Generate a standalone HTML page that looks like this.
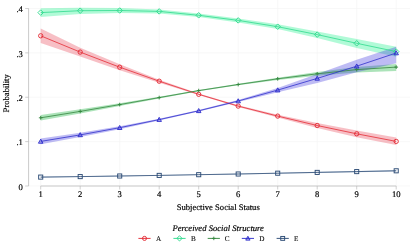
<!DOCTYPE html>
<html><head><meta charset="utf-8"><title>Chart</title><style>html,body{margin:0;padding:0;background:#fff}body{width:410px;height:244px;overflow:hidden}</style></head><body>
<svg width="410" height="244" viewBox="0 0 410 244" style="display:block;text-rendering:geometricPrecision">
<rect width="410" height="244" fill="#fff"/>
<path d="M40.70 0V186M80.20 0V186M119.70 0V186M159.20 0V186M198.70 0V186M238.20 0V186M277.70 0V186M317.20 0V186M356.70 0V186M396.20 0V186M29 186.00H410M29 141.62H410M29 97.25H410M29 52.88H410M29 8.50H410" stroke="#f3f3f3" stroke-width="0.6" fill="none"/>
<polygon points="40.70,28.50 80.20,47.80 119.70,64.20 159.20,79.70 198.70,93.50 238.20,105.30 277.70,114.80 317.20,123.10 356.70,130.40 396.20,137.50 396.20,145.00 356.70,137.20 317.20,127.90 277.70,117.40 238.20,106.90 198.70,95.10 159.20,82.70 119.70,70.20 80.20,56.40 40.70,42.90" fill="#e62a40" fill-opacity="0.3"/>
<polygon points="40.70,8.30 80.20,7.70 119.70,8.10 159.20,9.40 198.70,13.50 238.20,18.40 277.70,24.30 317.20,31.40 356.70,38.90 396.20,46.80 396.20,56.80 356.70,47.90 317.20,37.90 277.70,29.10 238.20,22.40 198.70,17.10 159.20,13.40 119.70,13.00 80.20,13.90 40.70,17.10" fill="#28f090" fill-opacity="0.36"/>
<polygon points="40.70,114.90 80.20,109.20 119.70,103.20 159.20,96.80 198.70,90.00 238.20,83.80 277.70,77.70 317.20,71.90 356.70,66.90 396.20,63.90 396.20,71.00 356.70,72.50 317.20,75.70 277.70,79.90 238.20,85.20 198.70,91.20 159.20,98.40 119.70,106.00 80.20,113.60 40.70,120.50" fill="#30b850" fill-opacity="0.4"/>
<polygon points="40.70,138.60 80.20,132.70 119.70,126.20 159.20,118.70 198.70,110.10 238.20,100.00 277.70,87.90 317.20,74.00 356.70,59.80 396.20,46.70 396.20,63.30 356.70,72.20 317.20,83.00 277.70,92.30 238.20,102.00 198.70,111.50 159.20,120.50 119.70,129.20 80.20,137.10 40.70,144.20" fill="#4038e0" fill-opacity="0.34"/>
<polygon points="40.70,176.55 80.20,176.15 119.70,175.60 159.20,175.00 198.70,174.30 238.20,173.60 277.70,172.75 317.20,171.85 356.70,170.90 396.20,170.00 396.20,171.60 356.70,172.30 317.20,172.95 277.70,173.65 238.20,174.40 198.70,175.10 159.20,175.80 119.70,176.40 80.20,177.05 40.70,177.65" fill="#3a6a9a" fill-opacity="0.3"/>
<polyline points="40.70,35.80 80.20,52.10 119.70,67.20 159.20,81.20 198.70,94.30 238.20,106.10 277.70,116.10 317.20,125.50 356.70,133.80 396.20,141.40" fill="none" stroke="#e42c36" stroke-width="0.8"/>
<circle cx="40.70" cy="35.80" r="2.15" fill="none" stroke="#e42c36" stroke-width="0.95"/>
<circle cx="80.20" cy="52.10" r="2.15" fill="none" stroke="#e42c36" stroke-width="0.95"/>
<circle cx="119.70" cy="67.20" r="2.15" fill="none" stroke="#e42c36" stroke-width="0.95"/>
<circle cx="159.20" cy="81.20" r="2.15" fill="none" stroke="#e42c36" stroke-width="0.95"/>
<circle cx="198.70" cy="94.30" r="2.15" fill="none" stroke="#e42c36" stroke-width="0.95"/>
<circle cx="238.20" cy="106.10" r="2.15" fill="none" stroke="#e42c36" stroke-width="0.95"/>
<circle cx="277.70" cy="116.10" r="2.15" fill="none" stroke="#e42c36" stroke-width="0.95"/>
<circle cx="317.20" cy="125.50" r="2.15" fill="none" stroke="#e42c36" stroke-width="0.95"/>
<circle cx="356.70" cy="133.80" r="2.15" fill="none" stroke="#e42c36" stroke-width="0.95"/>
<circle cx="396.20" cy="141.40" r="2.15" fill="none" stroke="#e42c36" stroke-width="0.95"/>
<polyline points="40.70,12.60 80.20,10.70 119.70,10.50 159.20,11.40 198.70,15.30 238.20,20.40 277.70,26.70 317.20,34.60 356.70,43.30 396.20,51.60" fill="none" stroke="#30da8e" stroke-width="0.8"/>
<path d="M40.70 9.85L43.45 12.60L40.70 15.35L37.95 12.60Z" fill="none" stroke="#30da8e" stroke-width="0.95"/>
<path d="M80.20 7.95L82.95 10.70L80.20 13.45L77.45 10.70Z" fill="none" stroke="#30da8e" stroke-width="0.95"/>
<path d="M119.70 7.75L122.45 10.50L119.70 13.25L116.95 10.50Z" fill="none" stroke="#30da8e" stroke-width="0.95"/>
<path d="M159.20 8.65L161.95 11.40L159.20 14.15L156.45 11.40Z" fill="none" stroke="#30da8e" stroke-width="0.95"/>
<path d="M198.70 12.55L201.45 15.30L198.70 18.05L195.95 15.30Z" fill="none" stroke="#30da8e" stroke-width="0.95"/>
<path d="M238.20 17.65L240.95 20.40L238.20 23.15L235.45 20.40Z" fill="none" stroke="#30da8e" stroke-width="0.95"/>
<path d="M277.70 23.95L280.45 26.70L277.70 29.45L274.95 26.70Z" fill="none" stroke="#30da8e" stroke-width="0.95"/>
<path d="M317.20 31.85L319.95 34.60L317.20 37.35L314.45 34.60Z" fill="none" stroke="#30da8e" stroke-width="0.95"/>
<path d="M356.70 40.55L359.45 43.30L356.70 46.05L353.95 43.30Z" fill="none" stroke="#30da8e" stroke-width="0.95"/>
<path d="M396.20 48.85L398.95 51.60L396.20 54.35L393.45 51.60Z" fill="none" stroke="#30da8e" stroke-width="0.95"/>
<polyline points="40.70,117.80 80.20,111.40 119.70,104.60 159.20,97.60 198.70,90.60 238.20,84.50 277.70,78.80 317.20,73.80 356.70,69.60 396.20,67.10" fill="none" stroke="#35873f" stroke-width="0.8"/>
<path d="M38.85 117.80H42.55M40.70 115.95V119.65" fill="none" stroke="#35873f" stroke-width="0.95"/>
<path d="M78.35 111.40H82.05M80.20 109.55V113.25" fill="none" stroke="#35873f" stroke-width="0.95"/>
<path d="M117.85 104.60H121.55M119.70 102.75V106.45" fill="none" stroke="#35873f" stroke-width="0.95"/>
<path d="M157.35 97.60H161.05M159.20 95.75V99.45" fill="none" stroke="#35873f" stroke-width="0.95"/>
<path d="M196.85 90.60H200.55M198.70 88.75V92.45" fill="none" stroke="#35873f" stroke-width="0.95"/>
<path d="M236.35 84.50H240.05M238.20 82.65V86.35" fill="none" stroke="#35873f" stroke-width="0.95"/>
<path d="M275.85 78.80H279.55M277.70 76.95V80.65" fill="none" stroke="#35873f" stroke-width="0.95"/>
<path d="M315.35 73.80H319.05M317.20 71.95V75.65" fill="none" stroke="#35873f" stroke-width="0.95"/>
<path d="M354.85 69.60H358.55M356.70 67.75V71.45" fill="none" stroke="#35873f" stroke-width="0.95"/>
<path d="M394.35 67.10H398.05M396.20 65.25V68.95" fill="none" stroke="#35873f" stroke-width="0.95"/>
<polyline points="40.70,141.40 80.20,134.90 119.70,127.70 159.20,119.60 198.70,110.80 238.20,101.00 277.70,90.10 317.20,78.40 356.70,66.20 396.20,53.00" fill="none" stroke="#3030cc" stroke-width="0.8"/>
<path d="M40.70 139.15L42.95 143.20L38.45 143.20Z" fill="#3030cc" fill-opacity="0.3" stroke="#3030cc" stroke-width="0.95"/>
<path d="M80.20 132.65L82.45 136.70L77.95 136.70Z" fill="#3030cc" fill-opacity="0.3" stroke="#3030cc" stroke-width="0.95"/>
<path d="M119.70 125.45L121.95 129.50L117.45 129.50Z" fill="#3030cc" fill-opacity="0.3" stroke="#3030cc" stroke-width="0.95"/>
<path d="M159.20 117.35L161.45 121.40L156.95 121.40Z" fill="#3030cc" fill-opacity="0.3" stroke="#3030cc" stroke-width="0.95"/>
<path d="M198.70 108.55L200.95 112.60L196.45 112.60Z" fill="#3030cc" fill-opacity="0.3" stroke="#3030cc" stroke-width="0.95"/>
<path d="M238.20 98.75L240.45 102.80L235.95 102.80Z" fill="#3030cc" fill-opacity="0.3" stroke="#3030cc" stroke-width="0.95"/>
<path d="M277.70 87.85L279.95 91.90L275.45 91.90Z" fill="#3030cc" fill-opacity="0.3" stroke="#3030cc" stroke-width="0.95"/>
<path d="M317.20 76.15L319.45 80.20L314.95 80.20Z" fill="#3030cc" fill-opacity="0.3" stroke="#3030cc" stroke-width="0.95"/>
<path d="M356.70 63.95L358.95 68.00L354.45 68.00Z" fill="#3030cc" fill-opacity="0.3" stroke="#3030cc" stroke-width="0.95"/>
<path d="M396.20 50.75L398.45 54.80L393.95 54.80Z" fill="#3030cc" fill-opacity="0.3" stroke="#3030cc" stroke-width="0.95"/>
<polyline points="40.70,177.10 80.20,176.60 119.70,176.00 159.20,175.40 198.70,174.70 238.20,174.00 277.70,173.20 317.20,172.40 356.70,171.60 396.20,170.80" fill="none" stroke="#2e4d76" stroke-width="0.8"/>
<rect x="38.65" y="175.05" width="4.10" height="4.10" fill="none" stroke="#2e4d76" stroke-width="0.95"/>
<rect x="78.15" y="174.55" width="4.10" height="4.10" fill="none" stroke="#2e4d76" stroke-width="0.95"/>
<rect x="117.65" y="173.95" width="4.10" height="4.10" fill="none" stroke="#2e4d76" stroke-width="0.95"/>
<rect x="157.15" y="173.35" width="4.10" height="4.10" fill="none" stroke="#2e4d76" stroke-width="0.95"/>
<rect x="196.65" y="172.65" width="4.10" height="4.10" fill="none" stroke="#2e4d76" stroke-width="0.95"/>
<rect x="236.15" y="171.95" width="4.10" height="4.10" fill="none" stroke="#2e4d76" stroke-width="0.95"/>
<rect x="275.65" y="171.15" width="4.10" height="4.10" fill="none" stroke="#2e4d76" stroke-width="0.95"/>
<rect x="315.15" y="170.35" width="4.10" height="4.10" fill="none" stroke="#2e4d76" stroke-width="0.95"/>
<rect x="354.65" y="169.55" width="4.10" height="4.10" fill="none" stroke="#2e4d76" stroke-width="0.95"/>
<rect x="394.15" y="168.75" width="4.10" height="4.10" fill="none" stroke="#2e4d76" stroke-width="0.95"/>
<path d="M28.6 8.5V186M40.7 186H396.2" stroke="#b8b8b8" stroke-width="0.75" fill="none"/>
<path d="M25.2 186.00H28.7M25.2 141.62H28.7M25.2 97.25H28.7M25.2 52.88H28.7M25.2 8.50H28.7M40.70 186V189.5M80.20 186V189.5M119.70 186V189.5M159.20 186V189.5M198.70 186V189.5M238.20 186V189.5M277.70 186V189.5M317.20 186V189.5M356.70 186V189.5M396.20 186V189.5" stroke="#bcbcbc" stroke-width="0.7" fill="none"/>
<g font-family="'Liberation Serif', serif" font-size="8.6" fill="#000" stroke="#000" stroke-width="0.18">
<text x="22.9" y="189.80" text-anchor="end">0</text>
<text x="22.9" y="145.43" text-anchor="end">.1</text>
<text x="22.9" y="101.05" text-anchor="end">.2</text>
<text x="22.9" y="56.67" text-anchor="end">.3</text>
<text x="22.9" y="12.30" text-anchor="end">.4</text>
<text x="40.70" y="197.2" text-anchor="middle">1</text>
<text x="80.20" y="197.2" text-anchor="middle">2</text>
<text x="119.70" y="197.2" text-anchor="middle">3</text>
<text x="159.20" y="197.2" text-anchor="middle">4</text>
<text x="198.70" y="197.2" text-anchor="middle">5</text>
<text x="238.20" y="197.2" text-anchor="middle">6</text>
<text x="277.70" y="197.2" text-anchor="middle">7</text>
<text x="317.20" y="197.2" text-anchor="middle">8</text>
<text x="356.70" y="197.2" text-anchor="middle">9</text>
<text x="396.20" y="197.2" text-anchor="middle">10</text>
<text x="218.2" y="210" text-anchor="middle">Subjective Social Status</text>
<text transform="translate(8.8,93.3) rotate(-90)" text-anchor="middle">Probability</text>
<text x="218.2" y="231.1" text-anchor="middle" font-style="italic">Perceived Social Structure</text>
</g>
<g font-family="'Liberation Serif', serif" font-size="7.2" fill="#000" stroke="#000" stroke-width="0.1">
<path d="M138.40 238.4H150.60" stroke="#e42c36" stroke-width="0.95"/>
<circle cx="144.50" cy="238.40" r="2.04" fill="none" stroke="#e42c36" stroke-width="0.95"/>
<text x="156.0" y="240.9">A</text>
<path d="M173.40 238.4H185.60" stroke="#30da8e" stroke-width="0.95"/>
<path d="M179.50 235.79L182.11 238.40L179.50 241.01L176.89 238.40Z" fill="none" stroke="#30da8e" stroke-width="0.95"/>
<text x="191.0" y="240.9">B</text>
<path d="M207.70 238.4H219.90" stroke="#35873f" stroke-width="0.95"/>
<path d="M212.04 238.40H215.56M213.80 236.64V240.16" fill="none" stroke="#35873f" stroke-width="0.95"/>
<text x="224.8" y="240.9">C</text>
<path d="M241.80 238.4H254.00" stroke="#3030cc" stroke-width="0.95"/>
<path d="M247.90 236.26L250.04 240.11L245.76 240.11Z" fill="#3030cc" fill-opacity="0.3" stroke="#3030cc" stroke-width="0.95"/>
<text x="259.3" y="240.9">D</text>
<path d="M276.60 238.4H288.80" stroke="#2e4d76" stroke-width="0.95"/>
<rect x="280.75" y="236.45" width="3.89" height="3.89" fill="none" stroke="#2e4d76" stroke-width="0.95"/>
<text x="294.0" y="240.9">E</text>
</g>
</svg>
</body></html>
